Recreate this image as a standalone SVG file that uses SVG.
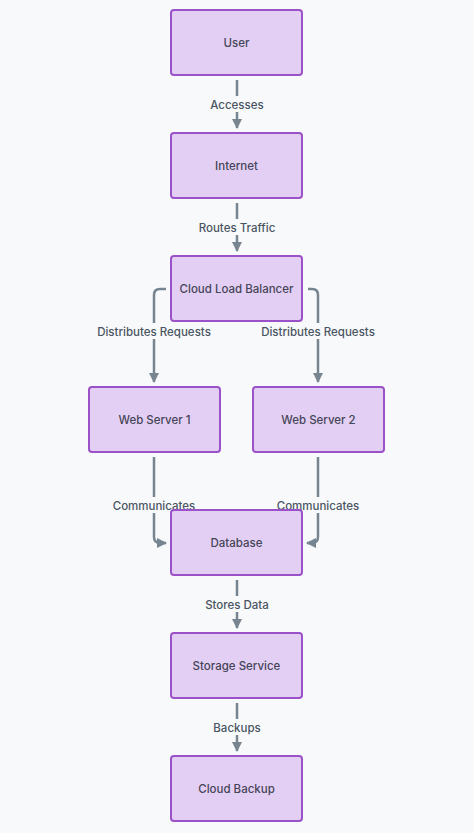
<svg xmlns="http://www.w3.org/2000/svg" width="474" height="833" viewBox="0 0 474 833">
<style>
.node rect{fill:#e4cff4;stroke:#9b51c8;stroke-width:2}
.node text{font-family:"Inter","Noto Sans",sans-serif;font-size:11.5px;font-weight:500;fill:#454558;text-anchor:middle;dominant-baseline:central}
.edge{fill:none;stroke:#778591;stroke-width:2.5}
.lbl rect{fill:#f8f9fa}
.lbl text{font-family:"Inter","Noto Sans",sans-serif;font-size:11.5px;font-weight:500;fill:#4a5563;text-anchor:middle;dominant-baseline:central}
</style>
<defs>
<marker id="ah" viewBox="0 0 10 10" refX="9" refY="5" markerWidth="4" markerHeight="4" orient="auto" markerUnits="strokeWidth">
<path d="M0,0 L10,5 L0,10 z" fill="#778591"/>
</marker>
</defs>
<rect width="474" height="833" fill="#f8f9fa"/>
<g id="connectors">
<path class="edge" d="M237,80 V128" marker-end="url(#ah)"/>
<path class="edge" d="M237,203 V251" marker-end="url(#ah)"/>
<path class="edge" d="M166,289 H160 Q154,289 154,295 V382" marker-end="url(#ah)"/>
<path class="edge" d="M308,289 H312 Q318,289 318,295 V382" marker-end="url(#ah)"/>
<path class="edge" d="M154,457 V537 Q154,543 160,543 H166" marker-end="url(#ah)"/>
<path class="edge" d="M318,457 V537 Q318,543 312,543 H307" marker-end="url(#ah)"/>
<path class="edge" d="M237,580 V628" marker-end="url(#ah)"/>
<path class="edge" d="M237,703 V751" marker-end="url(#ah)"/>
<g class="lbl">
<rect x="210" y="96" width="54" height="16"/><text x="237" y="104.5">Accesses</text>
<rect x="198" y="219" width="78" height="16"/><text x="237" y="227.5">Routes Traffic</text>
<rect x="97" y="323" width="114" height="16"/><text x="154" y="331.5">Distributes Requests</text>
<rect x="261" y="323" width="114" height="16"/><text x="318" y="331.5">Distributes Requests</text>
<rect x="115" y="497" width="78" height="16"/><text x="154" y="505.5">Communicates</text>
<rect x="279" y="497" width="78" height="16"/><text x="318" y="505.5">Communicates</text>
<rect x="204" y="596" width="66" height="16"/><text x="237" y="604.5">Stores Data</text>
<rect x="212" y="719" width="50" height="16"/><text x="237" y="727.5">Backups</text>
</g>
</g>
<g id="user" class="node"><rect x="171" y="10" width="131" height="65" rx="3"/><text x="236.5" y="43">User</text></g>
<g id="internet" class="node"><rect x="171" y="133" width="131" height="65" rx="3"/><text x="236.5" y="166">Internet</text></g>
<g id="clb" class="node"><rect x="171" y="256" width="131" height="65" rx="3"/><text x="236.5" y="289">Cloud Load Balancer</text></g>
<g id="ws1" class="node"><rect x="89" y="387" width="131" height="65" rx="3"/><text x="154.5" y="420">Web Server 1</text></g>
<g id="ws2" class="node"><rect x="253" y="387" width="131" height="65" rx="3"/><text x="318.5" y="420">Web Server 2</text></g>
<g id="database" class="node"><rect x="171" y="510" width="131" height="65" rx="3"/><text x="236.5" y="543">Database</text></g>
<g id="storage" class="node"><rect x="171" y="633" width="131" height="65" rx="3"/><text x="236.5" y="666">Storage Service</text></g>
<g id="backup" class="node"><rect x="171" y="756" width="131" height="65" rx="3"/><text x="236.5" y="789">Cloud Backup</text></g>
</svg>
